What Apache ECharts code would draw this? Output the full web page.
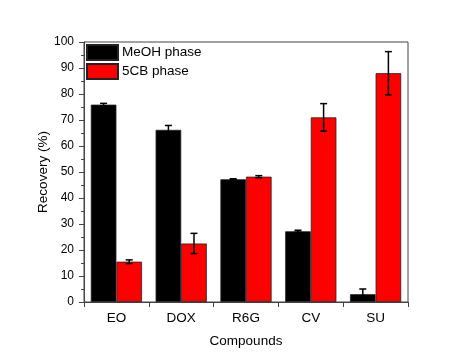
<!DOCTYPE html>
<html><head><meta charset="utf-8">
<script src="https://cdn.jsdelivr.net/npm/echarts@6/dist/echarts.min.js"></script>
<style>html,body{margin:0;padding:0;background:#fff}#c{width:474px;height:363px}</style>
</head><body><div id="c"></div>
<script>
var categories = ['EO', 'DOX', 'R6G', 'CV', 'SU'];
var meohValues = [75.9, 66.2, 47.2, 27.2, 3.0];
var meohErrors = [0.5, 1.7, 0.2, 0.4, 2.0];
var cbValues = [15.5, 22.5, 48.2, 71.0, 88.0];
var cbErrors = [0.7, 3.9, 0.4, 5.3, 8.3];
var yTicks = [0, 10, 20, 30, 40, 50, 60, 70, 80, 90, 100];

var chart = echarts.init(document.getElementById('c'));
var font = 'Liberation Sans, Arial, sans-serif';
var gapRatio = 0.21;

function errSeries(vals, errs, side) {
  return {
    type: 'custom',
    z: 10,
    silent: true,
    data: vals.map(function (v, i) { return [i, v, errs[i]]; }),
    encode: { x: 0, y: 1 },
    renderItem: function (params, api) {
      var i = api.value(0), v = api.value(1), e = api.value(2);
      var bandW = api.size([1, 0])[0];
      var barW = bandW * (1 - gapRatio) / 2;
      var c = api.coord([i, v]);
      var x = c[0] + side * barW / 2;
      var top = api.coord([i, v + e])[1];
      var bot = api.coord([i, v - e])[1];
      var cap = 3.5;
      var st = { stroke: '#000', lineWidth: 1.5 };
      return {
        type: 'group',
        children: [
          { type: 'line', shape: { x1: x, y1: top, x2: x, y2: bot }, style: st },
          { type: 'line', shape: { x1: x - cap, y1: top, x2: x + cap, y2: top }, style: st },
          { type: 'line', shape: { x1: x - cap, y1: bot, x2: x + cap, y2: bot }, style: st }
        ]
      };
    }
  };
}

chart.setOption({
  animation: false,
  textStyle: { fontFamily: font },
  grid: { left: 84, right: 66, top: 42, bottom: 61, show: true, borderColor: '#444', borderWidth: 1 },
  legend: {
    left: 86, top: 44, padding: 0, orient: 'vertical', icon: 'rect', itemWidth: 31, itemHeight: 15, itemGap: 2,
    textStyle: { fontSize: 13.5, color: '#000', fontFamily: font, padding: [0, 0, 0, -1] },
    data: ['MeOH phase', '5CB phase']
  },
  xAxis: {
    type: 'category', data: categories,
    name: 'Compounds', nameLocation: 'middle', nameGap: 32,
    nameTextStyle: { fontSize: 13.5, color: '#000' },
    axisLine: { lineStyle: { color: '#444', width: 1 } },
    axisTick: { show: true, length: 5, lineStyle: { color: '#444' } },
    axisLabel: { fontSize: 13.5, color: '#000', margin: 9 }
  },
  yAxis: {
    type: 'value', min: 0, max: 100, interval: 10,
    name: 'Recovery (%)', nameLocation: 'middle', nameGap: 34, nameMoveOverlap: false,
    nameTextStyle: { fontSize: 13.5, color: '#000' },
    axisLine: { show: true, lineStyle: { color: '#444', width: 1 } },
    axisTick: { show: true, length: 5, lineStyle: { color: '#444' } },
    minorTick: { show: true, splitNumber: 2, length: 3, lineStyle: { color: '#444' } },
    splitLine: { show: false },
    axisLabel: { fontSize: 12, color: '#000', margin: 10,
      formatter: function (v) { return yTicks.indexOf(v) >= 0 ? String(v) : ''; } }
  },
  series: [
    { name: 'MeOH phase', type: 'bar', data: meohValues, barGap: '0%', barCategoryGap: (gapRatio * 100) + '%',
      itemStyle: { color: '#000', borderColor: '#222', borderWidth: 0.8 } },
    { name: '5CB phase', type: 'bar', data: cbValues,
      itemStyle: { color: '#ff0000', borderColor: '#222', borderWidth: 0.8 } },
    errSeries(meohValues, meohErrors, -1),
    errSeries(cbValues, cbErrors, 1)
  ]
});
</script></body></html>
